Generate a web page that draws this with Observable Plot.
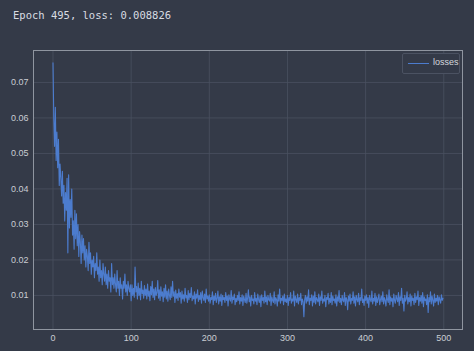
<!DOCTYPE html>
<html>
<head>
<meta charset="utf-8">
<script src="https://cdn.jsdelivr.net/npm/d3@7"></script>
<script src="https://cdn.jsdelivr.net/npm/@observablehq/plot@0.6"></script>
<style>
html,body{margin:0;padding:0;background:#343a48;width:474px;height:351px;overflow:hidden;}
#wrap{position:relative;width:474px;height:351px;}
#title{height:28px;line-height:30px;padding-left:13px;font-family:"DejaVu Sans Mono",monospace;font-size:10.5px;color:#d8dce2;}
#legend{position:absolute;left:402px;top:53px;width:56px;height:19px;border:1px solid #4b5262;border-radius:2px;background:#343a48;font-family:"Liberation Sans",Arial,sans-serif;font-size:9px;color:#d4d8de;}
#legend .sw{position:absolute;left:5px;top:9px;width:21px;height:1.3px;background:#4c7cce;}
#legend .lb{position:absolute;left:30px;top:3px;}
</style>
</head>
<body>
<div id="wrap">
<div id="title">Epoch 495, loss: 0.008826</div>
<div id="chart"></div>
<div id="legend"><div class="sw"></div><div class="lb">losses</div></div>
</div>
<script>
const seriesName = "losses";
const xTicks = [0, 100, 200, 300, 400, 500];
const yTicks = [0.01, 0.02, 0.03, 0.04, 0.05, 0.06, 0.07];
const losses = [
0.0755,0.060,0.052,0.063,0.048,0.056,0.046,0.054,0.041,0.047,0.043,0.038,0.045,0.036,0.041,0.031,0.039,0.034,0.043,0.022,
0.044,0.029,0.037,0.032,0.040,0.027,0.031,0.023,0.034,0.026,0.033,0.024,0.030,0.021,0.028,0.025,0.019,0.027,0.022,0.026,
0.020,0.024,0.018,0.023,0.021,0.017,0.025,0.019,0.022,0.016,0.020,0.018,0.021,0.015,0.019,0.017,0.022,0.016,0.018,0.014,
0.020,0.015,0.017,0.013,0.019,0.016,0.014,0.018,0.013,0.016,0.012,0.017,0.014,0.015,0.011,0.019,0.013,0.015,0.012,0.016,
0.013,0.011,0.017,0.012,0.014,0.010,0.015,0.012,0.013,0.009,0.014,0.012,0.016,0.011,0.013,0.010,0.014,0.012,0.011,0.013,
0.0085,0.013,0.010,0.012,0.0095,0.018,0.011,0.0125,0.009,0.0135,0.010,0.012,0.0088,0.014,0.0105,0.0115,0.0092,0.0128,0.0100,0.0118,
0.0090,0.0132,0.0098,0.0112,0.0085,0.0125,0.0102,0.0140,0.0094,0.0118,0.0088,0.0122,0.0100,0.0108,0.0142,0.0092,0.0116,0.0086,0.0124,0.0098,
0.0110,0.0082,0.0120,0.0095,0.0130,0.0090,0.0112,0.0084,0.0118,0.0100,0.0088,0.0124,0.0094,0.0140,0.0098,0.0110,0.0080,0.0115,0.0092,0.0105,
0.0086,0.0118,0.0095,0.0108,0.0078,0.0112,0.0090,0.0102,0.0084,0.0120,0.0093,0.0100,0.0080,0.0114,0.0088,0.0106,0.0094,0.0122,0.0085,0.0098,
0.0090,0.0110,0.0076,0.0104,0.0092,0.0116,0.0083,0.0100,0.0088,0.0108,0.0078,0.0112,0.0094,0.0086,0.0104,0.0080,0.0118,0.0090,0.0098,0.0084,
0.0102,0.0078,0.0095,0.0088,0.0110,0.0074,0.0098,0.0086,0.0106,0.0080,0.0092,0.0112,0.0076,0.0096,0.0084,0.0104,0.0072,0.0100,0.0088,0.0094,
0.0080,0.0108,0.0086,0.0098,0.0070,0.0102,0.0090,0.0084,0.0114,0.0078,0.0096,0.0088,0.0104,0.0074,0.0092,0.0082,0.0100,0.0086,0.0110,0.0076,
0.0094,0.0084,0.0102,0.0072,0.0098,0.0088,0.0080,0.0106,0.0078,0.0092,0.0116,0.0082,0.0096,0.0070,0.0100,0.0086,0.0090,0.0076,0.0108,0.0084,
0.0092,0.0074,0.0104,0.0088,0.0080,0.0098,0.0068,0.0102,0.0086,0.0094,0.0078,0.0112,0.0082,0.0096,0.0074,0.0100,0.0088,0.0084,0.0106,0.0072,
0.0096,0.0086,0.0080,0.0110,0.0076,0.0094,0.0088,0.0070,0.0102,0.0084,0.0118,0.0078,0.0092,0.0086,0.0098,0.0074,0.0104,0.0082,0.0090,0.0080,
0.0100,0.0072,0.0094,0.0086,0.0108,0.0078,0.0090,0.0084,0.0112,0.0070,0.0098,0.0088,0.0080,0.0104,0.0076,0.0094,0.0086,0.0106,0.0074,0.0090,
0.0082,0.0040,0.0088,0.0100,0.0078,0.0096,0.0084,0.0116,0.0074,0.0092,0.0086,0.0102,0.0070,0.0098,0.0080,0.0110,0.0076,0.0094,0.0088,0.0082,
0.0104,0.0072,0.0096,0.0086,0.0112,0.0078,0.0090,0.0084,0.0100,0.0068,0.0094,0.0088,0.0106,0.0076,0.0092,0.0080,0.0108,0.0074,0.0098,0.0086,
0.0090,0.0078,0.0102,0.0070,0.0096,0.0084,0.0114,0.0080,0.0092,0.0074,0.0100,0.0086,0.0082,0.0108,0.0072,0.0094,0.0088,0.0060,0.0098,0.0084,
0.0104,0.0076,0.0092,0.0086,0.0110,0.0078,0.0096,0.0070,0.0100,0.0088,0.0082,0.0106,0.0074,0.0094,0.0086,0.0118,0.0080,0.0090,0.0072,0.0098,
0.0086,0.0102,0.0078,0.0094,0.0066,0.0100,0.0088,0.0082,0.0112,0.0076,0.0092,0.0084,0.0106,0.0072,0.0096,0.0080,0.0090,0.0104,0.0074,0.0088,
0.0098,0.0082,0.0110,0.0076,0.0094,0.0086,0.0070,0.0102,0.0088,0.0080,0.0116,0.0074,0.0096,0.0084,0.0092,0.0068,0.0104,0.0086,0.0078,0.0100,
0.0090,0.0082,0.0108,0.0072,0.0096,0.0086,0.0120,0.0078,0.0092,0.0056,0.0100,0.0084,0.0090,0.0110,0.0076,0.0094,0.0082,0.0104,0.0070,0.0098,
0.0086,0.0092,0.0074,0.0106,0.0080,0.0096,0.0088,0.0112,0.0072,0.0094,0.0084,0.0100,0.0078,0.0108,0.0068,0.0096,0.0086,0.0090,0.0074,0.0102,
0.0052,0.0094,0.0082,0.0110,0.0076,0.0098,0.0086,0.0070,0.0104,0.0080,0.0092,0.0084,0.0100,0.0074,0.0096,0.0088,0.0078,0.0102,0.0086,0.0092
];
const data = losses.map((v, i) => ({epoch: i, loss: v}));
const font = "'Liberation Sans', Arial, sans-serif";
const chart = Plot.plot({
  width: 474,
  height: 323,
  marginTop: 22,
  marginBottom: 22,
  marginLeft: 33,
  marginRight: 12,
  style: {background: "#343a48", color: "#c9cdd3", fontFamily: font, fontSize: "9px"},
  x: {domain: [-24.95, 523.95], ticks: xTicks, tickSize: 0, tickPadding: 5, label: null},
  y: {domain: [0.0004, 0.079], ticks: yTicks, tickSize: 0, tickPadding: 5, label: null, tickFormat: d => d.toFixed(2)},
  marks: [
    Plot.gridX(xTicks, {stroke: "#4a5161", strokeOpacity: 1, strokeWidth: 0.8}),
    Plot.gridY(yTicks, {stroke: "#4a5161", strokeOpacity: 1, strokeWidth: 0.8}),
    Plot.axisX({ticks: xTicks, tickSize: 0, tickPadding: 5, fill: "#c9cdd3"}),
    Plot.axisY({ticks: yTicks, tickSize: 0, tickPadding: 5, fill: "#c9cdd3", tickFormat: d => d.toFixed(2)}),
    Plot.line(data, {x: "epoch", y: "loss", stroke: "#4c7cce", strokeWidth: 1.1}),
    Plot.frame({stroke: "#8f95a0", strokeWidth: 1})
  ]
});
document.getElementById("chart").appendChild(chart);
</script>
</body>
</html>
